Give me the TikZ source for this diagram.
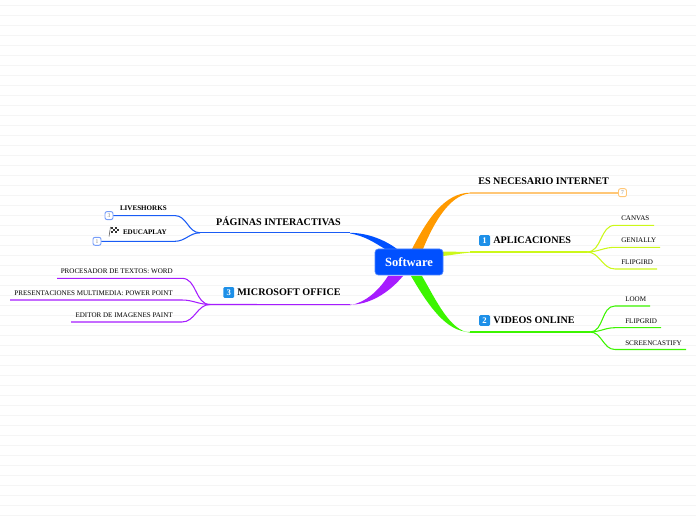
\documentclass[tikz,border=0pt]{standalone}
\usepackage{fontspec}
\setmainfont{Liberation Serif}
\usetikzlibrary{positioning}
\definecolor{softblue}{HTML}{0050FF}
\definecolor{bluebranch}{HTML}{1A5CF5}
\definecolor{orangebranch}{HTML}{FF9A00}
\definecolor{orangeline}{HTML}{FFC777}
\definecolor{limebranch}{HTML}{CCF81A}
\definecolor{greenbranch}{HTML}{3CF500}
\definecolor{purplebranch}{HTML}{A61CFF}
\definecolor{iconblue}{HTML}{1E90E8}
\tikzset{
	rootbox/.style={fill=softblue,draw=softblue!70!white,line width=0.5pt,rounded corners=2.5pt,text=white,font=\fontsize{9.4}{10}\selectfont\bfseries,minimum width=51pt,minimum height=19.5pt,inner sep=0pt},
	maintext/.style={font=\fontsize{7.6}{9}\selectfont\bfseries,inner sep=0pt},
	subtext/.style={font=\fontsize{5.3}{6}\selectfont,inner sep=0pt},
	boldsub/.style={font=\fontsize{5.3}{6}\selectfont\bfseries,inner sep=0pt},
	numicon/.style={fill=iconblue,rounded corners=1pt,text=white,font=\fontsize{6.5}{7}\selectfont\bfseries,minimum size=8.2pt,inner sep=0pt},
	badge/.style={draw=#1,fill=white,line width=0.7pt,rounded corners=1.5pt,text=gray,font=\fontsize{4.2}{5}\selectfont,minimum size=6pt,inner sep=0pt},
	twig/.style={draw=#1,line width=0.8pt}
}
\begin{document}
\begin{tikzpicture}[x={(0.75pt,0)},y={(0,-0.75pt)}]
	\useasboundingbox (0,0) rectangle (696,520);
	% ruled paper
	\foreach \ruley in {5,15,...,515}
		\draw[black!4,line width=0.5pt] (0,\ruley) -- (696,\ruley);

	\coordinate (internetHub) at (470,192.7);
	\coordinate (appsHub) at (470,252);
	\coordinate (videosHub) at (470,332);
	\coordinate (paginasHub) at (350,232.8);
	\coordinate (officeHub) at (350,304.6);

	% tapered roots
	\fill[orangebranch] (412,249) .. controls (428,218) and (445,193) .. (internetHub) -- (470,193.4) .. controls (450,195) and (434,222) .. (423,249) -- cycle;
	\fill[limebranch] (443,251.5) .. controls (452,251.5) and (460,252) .. (appsHub) -- (470,252.6) .. controls (460,253.5) and (452,255) .. (443,256) -- cycle;
	\fill[greenbranch] (411,276) .. controls (428,305) and (446,332) .. (videosHub) -- (470,332.6) .. controls (450,331) and (436,300) .. (422,276) -- cycle;
	\fill[softblue] (397,249) .. controls (385,240) and (368,233) .. (paginasHub) -- (350,233.4) .. controls (365,236) and (375,243) .. (385,249) -- cycle;
	\fill[purplebranch] (403,276) .. controls (388,294) and (368,305) .. (officeHub) -- (350,305.2) .. controls (364,303) and (378,292) .. (388,276) -- cycle;

	\node[rootbox] (software) at (409,262) {\raisebox{-0.7pt}{Software}};

	% main lines
	\node[badge=orangeline] (sieteBadge) at (622.5,192.7) {7};
	\draw[twig=orangeline,line width=1.4pt] (internetHub) -- (sieteBadge);
	\coordinate (limeFork) at (587,252);
	\coordinate (greenFork) at (590,332);
	\coordinate (blueFork) at (200,232.8);
	\coordinate (purpleFork) at (210,304.5);
	\draw[twig=limebranch] (appsHub) -- (limeFork);
	\draw[twig=greenbranch] (videosHub) -- (greenFork);
	\draw[twig=bluebranch] (paginasHub) -- (blueFork);
	\draw[twig=purplebranch] (officeHub) -- (purpleFork);

	% labels
	\node[maintext,anchor=west] (internet) at (478,181) {ES NECESARIO INTERNET};
	\node[maintext,anchor=west] (aplicaciones) at (493,240.5) {APLICACIONES};
	\node[numicon,left=2pt of aplicaciones] (unoIcon) {1};
	\node[maintext,anchor=west] (videos) at (493,320.5) {VIDEOS ONLINE};
	\node[numicon,left=2pt of videos] (dosIcon) {2};
	\node[maintext,anchor=east] (paginas) at (341,221) {PÁGINAS INTERACTIVAS};
	\node[maintext,anchor=east] (office) at (341,292.5) {MICROSOFT OFFICE};
	\node[numicon,left=2pt of office] (tresIcon) {3};

	% right twigs
	\node[subtext,anchor=west] (canvas) at (621,218.5) {CANVAS};
	\node[subtext,anchor=west] (genially) at (621,240) {GENIALLY};
	\node[subtext,anchor=west] (flipgird) at (621,262) {FLIPGIRD};
	\coordinate (canvasEnd) at (654,225.3);
	\coordinate (geniallyEnd) at (660,247.3);
	\coordinate (flipgirdEnd) at (657,269);
	\draw[twig=limebranch] (limeFork) to[out=0,in=180] (615,225.3) -- (canvasEnd);
	\draw[twig=limebranch] (limeFork) to[out=0,in=180] (615,247.3) -- (geniallyEnd);
	\draw[twig=limebranch] (limeFork) to[out=0,in=180] (615,269) -- (flipgirdEnd);

	\node[subtext,anchor=west] (loom) at (625,299) {LOOM};
	\node[subtext,anchor=west] (flipgrid) at (625,321) {FLIPGRID};
	\node[subtext,anchor=west] (screencastify) at (625,343) {SCREENCASTIFY};
	\coordinate (loomEnd) at (650,306);
	\coordinate (flipgridEnd) at (661,327.7);
	\coordinate (screencastifyEnd) at (686,349.5);
	\draw[twig=greenbranch] (greenFork) to[out=0,in=180] (615,306) -- (loomEnd);
	\draw[twig=greenbranch] (greenFork) to[out=0,in=180] (615,327.7) -- (flipgridEnd);
	\draw[twig=greenbranch] (greenFork) to[out=0,in=180] (615,349.5) -- (screencastifyEnd);

	% left twigs
	\node[boldsub,anchor=east] (liveshorks) at (167,208) {LIVESHORKS};
	\node[boldsub,anchor=east] (educaplay) at (167,232) {EDUCAPLAY};
	\node[badge=bluebranch!60!white] (tresBadge) at (109,215.6) {3};
	\node[badge=bluebranch!60!white] (unoBadge) at (97,241.3) {1};
	\draw[twig=bluebranch] (blueFork) to[out=180,in=0] (175,215.6) -- (tresBadge);
	\draw[twig=bluebranch] (blueFork) to[out=180,in=0] (175,241.3) -- (unoBadge);

	\node[subtext,anchor=east] (procesador) at (173,271) {PROCESADOR DE TEXTOS: WORD};
	\node[subtext,anchor=east] (presentaciones) at (173,293) {PRESENTACIONES MULTIMEDIA: POWER POINT};
	\node[subtext,anchor=east] (editor) at (173,315) {EDITOR DE IMAGENES PAINT};
	\coordinate (procesadorEnd) at (57,278.3);
	\coordinate (presentacionesEnd) at (10,300);
	\coordinate (editorEnd) at (71,322);
	\draw[twig=purplebranch] (purpleFork) to[out=180,in=0] (182,278.3) -- (procesadorEnd);
	\draw[twig=purplebranch] (purpleFork) to[out=180,in=0] (182,300) -- (presentacionesEnd);
	\draw[twig=purplebranch] (purpleFork) to[out=180,in=0] (182,322) -- (editorEnd);

	% flag
	\draw[black!70,line width=0.4pt] (109,236.5) -- (110.5,227);
	\foreach \col/\row in {0/0,2/0,1/1,3/1,0/2,2/2}
		\fill[black!80] (110.5+2.2*\col,227.2+2*\row) rectangle ++(2.2,2);
\end{tikzpicture}
\end{document}
